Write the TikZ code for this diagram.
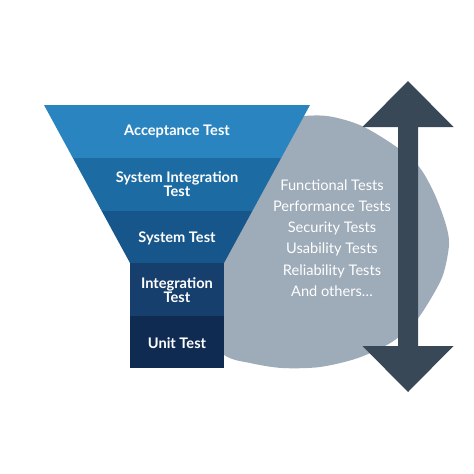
\documentclass[tikz,border=0pt]{standalone}
\usepackage{fontspec}
\setmainfont{Lato}
\usetikzlibrary{positioning}
\definecolor{accblue}{HTML}{2A84BF}
\definecolor{sysintblue}{HTML}{1D6BA3}
\definecolor{sysblue}{HTML}{16568A}
\definecolor{integblue}{HTML}{163F6D}
\definecolor{unitblue}{HTML}{0F2B52}
\definecolor{blobgray}{HTML}{9EABB9}
\definecolor{arrowslate}{HTML}{394857}

\begin{document}
\begin{tikzpicture}[
  x=1pt,y=-1pt,
  level/.style={text=white,align=center,
    font=\fontsize{14.6}{13.5}\selectfont\bfseries},
  kinds/.style={text=white,align=center,
    font=\fontsize{14.6}{21.3}\selectfont}
]
  \useasboundingbox (0,0) rectangle (474,474);

  % grey blob behind the list
  \fill[blobgray] plot[smooth cycle] coordinates {
    (327,116) (362,126) (398,148) (420,168) (435,195) (446,225)
    (449,245) (443,275) (430,300) (415,322) (392,342) (358,358)
    (320,367) (282,368) (250,363) (224,355) (180,320) (150,240)
    (170,160) (230,124) (290,117)};

  % funnel bands
  \fill[accblue]    (44,105) -- (310,105) -- (281.15,158) -- (72.85,158) -- cycle;
  \fill[sysintblue] (72.85,158) -- (281.15,158) -- (252.3,211) -- (101.7,211) -- cycle;
  \fill[sysblue]    (101.7,211) -- (252.3,211) -- (224,263) -- (130,263) -- cycle;
  \fill[integblue]  (130,263) rectangle (224,316);
  \fill[unitblue]   (130,316) rectangle (224,368);

  % level names
  \node[level] (acc)     at (177,131) {Acceptance Test};
  \node[level] (sysint)  at (177,184) {System Integration\\Test};
  \node[level] (systest) at (177,238) {System Test};
  \node[level] (integ)   at (177,290) {Integration\\Test};
  \node[level] (unit)    at (177,343) {Unit Test};

  % double arrow
  \fill[arrowslate]
    (408,81) -- (453.5,127) -- (418,127) -- (418,346) -- (453.5,346)
    -- (408,392) -- (362.5,346) -- (398,346) -- (398,127) -- (362.5,127)
    -- cycle;

  % kinds of tests
  \node[kinds] (others) at (332,238)
    {Functional Tests\\Performance Tests\\Security Tests\\
     Usability Tests\\Reliability Tests\\And others…};
\end{tikzpicture}
\end{document}
